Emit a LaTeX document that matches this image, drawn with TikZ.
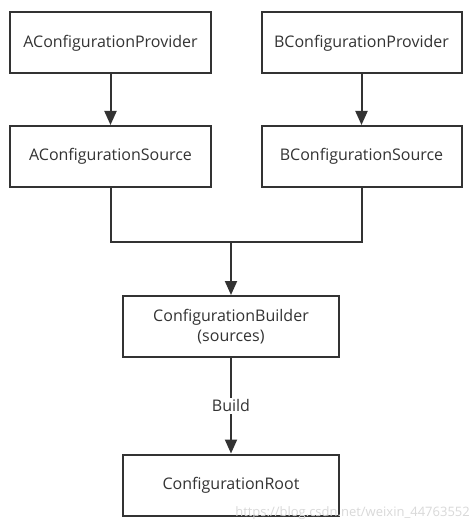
\documentclass[tikz,border=0pt]{standalone}
\usepackage{fontspec}
\setmainfont{Open Sans}
\usetikzlibrary{arrows.meta,calc}
\definecolor{ln}{HTML}{333333}
\begin{document}
\begin{tikzpicture}[x=1bp,y=-1bp,
  box/.style={draw=ln,line width=2bp,minimum width=200bp,minimum height=61bp,inner sep=0pt,text=ln,font=\fontsize{16bp}{20bp}\selectfont,align=center},
  conn/.style={draw=ln,line width=2bp},
  arr/.style={conn,-{Triangle[length=14bp,width=12bp]}}]
\useasboundingbox (0,0) rectangle (474,526);
\fill[white] (0,0) rectangle (474,526);
\node[box] (ap) at (110.5,43) {AConfigurationProvider};
\node[box] (bp) at (361.5,43) {BConfigurationProvider};
\node[box] (as) at (110.5,156.5) {AConfigurationSource};
\node[box] (bs) at (361.5,156.5) {BConfigurationSource};
\node[box,minimum width=216bp] (cb) at (231,326.5) {ConfigurationBuilder\\(sources)};
\node[box,minimum width=216bp] (cr) at (231,485) {ConfigurationRoot};
\draw[arr] (ap) -- (as);
\draw[arr] (bp) -- (bs);
\coordinate (j) at (231,242);
\draw[conn] (as.south) |- (j) -| (bs.south);
\draw[arr] (j) -- (cb.north);
\draw[arr] (cb) -- node[fill=white,text=ln,font=\fontsize{16bp}{20bp}\selectfont,inner sep=2bp] (bl) {Build} (cr);
\node[text=black!15,font=\fontsize{13bp}{16bp}\selectfont,anchor=south east,inner sep=0pt] (wm) at (470,520) {https://blog.csdn.net/weixin\_44763552};
\end{tikzpicture}
\end{document}
